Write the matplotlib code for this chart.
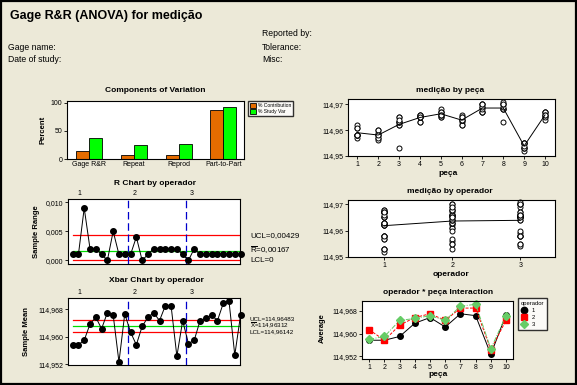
import numpy as np
import matplotlib
matplotlib.use('Agg')
import matplotlib.pyplot as plt
from matplotlib.patches import Rectangle
from matplotlib.lines import Line2D
from matplotlib.ticker import FuncFormatter
import matplotlib.transforms as mtransforms

plt.rcParams['font.family'] = ['Liberation Sans', 'DejaVu Sans']
plt.rcParams['mathtext.fontset'] = 'custom'
plt.rcParams['mathtext.rm'] = 'Liberation Sans'

# measurements: operator x part x trial
op1 = [[114.957, 114.958, 114.958], [114.958, 114.957, 114.958], [114.953, 114.962, 114.962],
       [114.963, 114.965, 114.963], [114.965, 114.967, 114.965], [114.962, 114.963, 114.962],
       [114.967, 114.967, 114.967], [114.963, 114.968, 114.968], [114.952, 114.953, 114.953],
       [114.967, 114.966, 114.967]]
op2 = [[114.961, 114.962, 114.961], [114.956, 114.960, 114.957], [114.963, 114.963, 114.963],
       [114.966, 114.965, 114.966], [114.966, 114.968, 114.967], [114.964, 114.966, 114.964],
       [114.969, 114.970, 114.968], [114.970, 114.968, 114.969], [114.955, 114.953, 114.955],
       [114.965, 114.964, 114.965]]
op3 = [[114.958, 114.958, 114.958], [114.959, 114.960, 114.958], [114.965, 114.965, 114.964],
       [114.965, 114.966, 114.965], [114.967, 114.966, 114.966], [114.965, 114.964, 114.965],
       [114.970, 114.969, 114.970], [114.970, 114.971, 114.970], [114.955, 114.954, 114.955],
       [114.967, 114.966, 114.966]]
operators = ['1', '2', '3']
parts = list(range(1, 11))

components = ['Gage R&R', 'Repeat', 'Reprod', 'Part-to-Part']
pct_contribution = [13.6, 6.6, 7.0, 86.4]
pct_study_var = [36.9, 25.7, 26.5, 93.0]

r_ucl, r_bar, r_lcl = 0.00429, 0.00167, 0.0
x_ucl, x_bar, x_lcl = 114.96483, 114.96312, 114.96142

data = np.array([op1, op2, op3])          # 3 x 10 x 3
ranges = np.ptp(data, axis=2).ravel()
means = data.mean(axis=2).ravel()
idx = np.arange(1, 31)

W, H = 577, 385
fig = plt.figure(figsize=(W / 100, H / 100), dpi=100)
bg = '#ECE9D8'
fig.patch.set_facecolor(bg)
fig.patches.append(Rectangle((0.001, 0.002), 0.997, 0.995, transform=fig.transFigure,
                             fill=False, edgecolor='black', lw=1.6))


def ax_px(x0, y0, x1, y1):
    a = fig.add_axes([x0 / W, 1 - y1 / H, (x1 - x0) / W, (y1 - y0) / H])
    a.set_facecolor('white')
    for s in a.spines.values():
        s.set_linewidth(0.8)
    a.tick_params(labelsize=5, length=2, width=0.6, pad=1.5)
    return a


def txt(x, y, s, **kw):
    fig.text(x / W, 1 - y / H, s, **kw)


def comma(fmt):
    return FuncFormatter(lambda v, p: (fmt % v).replace('.', ','))


# header
txt(10, 16, 'Gage R&R (ANOVA) for medição', fontsize=9, fontweight='bold', va='center')
txt(8, 47, 'Gage name:', fontsize=6.2, va='center')
txt(8, 60, 'Date of study:', fontsize=6.2, va='center')
txt(262, 34, 'Reported by:', fontsize=6.2, va='center')
txt(262, 47, 'Tolerance:', fontsize=6.2, va='center')
txt(262, 60, 'Misc:', fontsize=6.2, va='center')

tfs = 6
# components of variation
ax = ax_px(67, 101, 244, 159)
xc = np.arange(len(components))
bw = 0.29
ax.bar(xc - bw / 2, pct_contribution, bw, color='#E56C00', edgecolor='black', lw=0.6, label='% Contribution')
ax.bar(xc + bw / 2, pct_study_var, bw, color='#00FF00', edgecolor='black', lw=0.6, label='% Study Var')
ax.set_xlim(-0.5, 3.46)
ax.set_ylim(0, 103)
ax.set_yticks([0, 50, 100])
ax.set_xticks(xc)
ax.set_xticklabels(components)
ax.tick_params(axis='x', length=0)
ax.legend(loc='upper left', bbox_to_anchor=(248 / W, 1 - 101 / H), bbox_transform=fig.transFigure,
          fontsize=3.6, frameon=True, fancybox=False, edgecolor='black', handlelength=1.3,
          handleheight=1.2, borderpad=0.3, labelspacing=0.2, handletextpad=0.4, borderaxespad=0)
txt(155, 91, 'Components of Variation', fontsize=tfs, fontweight='bold', ha='center', va='center')
txt(43, 130, 'Percent', fontsize=5.5, fontweight='bold', rotation=90, ha='center', va='center')

# R chart
ax = ax_px(68, 199, 240, 264)
ax.plot(idx, ranges, color='black', lw=0.7, marker='o', ms=4, clip_on=False, zorder=3)
ax.plot([1, 30], [r_ucl, r_ucl], color='red', lw=0.9)
ax.plot([1, 30], [r_bar, r_bar], color='#00DD00', lw=0.9)
ax.plot([1, 30], [r_lcl, r_lcl], color='red', lw=0.9)
for xv in [10.5, 20.5]:
    ax.axvline(xv, color='#0000CC', lw=0.9, ls=(0, (6, 3)))
ax.set_xlim(0.2, 29.9)
ax.set_ylim(-0.00064, 0.01057)
ax.set_yticks([0, 0.005, 0.010])
ax.yaxis.set_major_formatter(comma('%.3f'))
ax.set_xticks([])
tr = mtransforms.blended_transform_factory(ax.transData, ax.transAxes)
for xv, s in zip([2.2, 11.7, 21.6], operators):
    ax.text(xv, 1.03, s, transform=tr, fontsize=5, ha='center', va='bottom')
txt(250, 236, 'UCL=0,00429', fontsize=5.8, va='center')
txt(250, 250.5, r'$\overline{\mathrm{R}}$=0,00167', fontsize=5.8, va='center')
txt(250, 260.5, 'LCL=0', fontsize=5.8, va='center')
txt(155, 184, 'R Chart by operador', fontsize=tfs, fontweight='bold', ha='center', va='center')
txt(37, 232, 'Sample Range', fontsize=5.5, fontweight='bold', rotation=90, ha='center', va='center')

# Xbar chart
ax = ax_px(68, 298, 240, 365)
ax.plot(idx, means, color='black', lw=0.7, marker='o', ms=4, clip_on=False, zorder=3)
ax.plot([1, 30], [x_ucl, x_ucl], color='red', lw=0.9)
ax.plot([1, 30], [x_bar, x_bar], color='#00DD00', lw=0.9)
ax.plot([1, 30], [x_lcl, x_lcl], color='red', lw=0.9)
for xv in [10.5, 20.5]:
    ax.axvline(xv, color='#0000CC', lw=0.9, ls=(0, (6, 3)))
ax.set_xlim(0.2, 29.9)
ax.set_ylim(114.9518, 114.97126)
ax.set_yticks([114.952, 114.960, 114.968])
ax.yaxis.set_major_formatter(comma('%.3f'))
ax.set_xticks([])
tr = mtransforms.blended_transform_factory(ax.transData, ax.transAxes)
for xv, s in zip([2.2, 11.7, 21.6], operators):
    ax.text(xv, 1.03, s, transform=tr, fontsize=5, ha='center', va='bottom')
txt(250, 319, 'UCL=114,96483', fontsize=4.5, va='center')
txt(250, 325.5, r'$\overline{\mathrm{X}}$=114,96312', fontsize=4.5, va='center')
txt(250, 332, 'LCL=114,96142', fontsize=4.5, va='center')
txt(156, 281, 'Xbar Chart by operador', fontsize=tfs, fontweight='bold', ha='center', va='center')
txt(27, 332, 'Sample Mean', fontsize=5.5, fontweight='bold', rotation=90, ha='center', va='center')

# medição by peça
ax = ax_px(348, 99, 555, 156)
for p in range(10):
    vals = data[:, p, :].ravel()
    ax.plot(np.full(vals.size, parts[p]), vals, ls='none', marker='o', ms=3.6, mfc='white',
            mec='black', mew=0.7, clip_on=False)
ax.plot(parts, data.mean(axis=(0, 2)), color='black', lw=0.7)
ax.set_xlim(0.55, 10.48)
ax.set_ylim(114.95, 114.97205)
ax.set_yticks([114.95, 114.96, 114.97])
ax.yaxis.set_major_formatter(comma('%.2f'))
ax.set_xticks(parts)
txt(450, 91, 'medição by peça', fontsize=tfs, fontweight='bold', ha='center', va='center')
txt(448, 173, 'peça', fontsize=6, fontweight='bold', ha='center', va='center')

# medição by operador
ax = ax_px(348, 200, 555, 257)
for o in range(3):
    vals = data[o].ravel()
    ax.plot(np.full(vals.size, o + 1), vals, ls='none', marker='o', ms=3.6, mfc='white',
            mec='black', mew=0.7, clip_on=False)
ax.plot([1, 2, 3], data.mean(axis=(1, 2)), color='black', lw=0.7)
ax.set_xlim(0.47, 3.51)
ax.set_ylim(114.95, 114.9716)
ax.set_yticks([114.95, 114.96, 114.97])
ax.yaxis.set_major_formatter(comma('%.2f'))
ax.set_xticks([1, 2, 3])
ax.set_xticklabels(operators)
txt(450, 192, 'medição by operador', fontsize=tfs, fontweight='bold', ha='center', va='center')
txt(451, 275, 'operador', fontsize=6, fontweight='bold', ha='center', va='center')

# interaction
ax = ax_px(362, 301, 513, 359)
styles = [('black', 'o', '-', 4), ('red', 's', (0, (3, 1.5)), 3.8), ('#66CC66', 'D', (0, (5, 1.5, 1, 1.5)), 3.8)]
handles = []
for o, (c, m, ls, ms) in enumerate(styles):
    ax.plot(parts, data[o].mean(axis=1), color=c, ls=ls, lw=0.7, marker=m, ms=ms, mec=c, clip_on=False)
    handles.append(Line2D([], [], ls='none', marker=m, color=c, ms=ms + 0.6))
ax.set_xlim(0.52, 10.46)
ax.set_ylim(114.95105, 114.9715)
ax.set_yticks([114.952, 114.960, 114.968])
ax.yaxis.set_major_formatter(comma('%.3f'))
ax.set_xticks(parts)
leg = ax.legend(handles, operators, title='operador', loc='upper left',
                bbox_to_anchor=(518 / W, 1 - 298 / H), bbox_transform=fig.transFigure,
                fontsize=4.2, title_fontsize=4.2, frameon=True, fancybox=False, edgecolor='black',
                handlelength=1.2, borderpad=0.5, labelspacing=0.35, handletextpad=0.6, borderaxespad=0)
leg._legend_box.align = 'left'
txt(438, 292, 'operador * peça Interaction', fontsize=tfs, fontweight='bold', ha='center', va='center')
txt(438, 375, 'peça', fontsize=6, fontweight='bold', ha='center', va='center')
txt(322, 328, 'Average', fontsize=5.5, fontweight='bold', rotation=90, ha='center', va='center')

fig.savefig('out.png', dpi=100, facecolor=bg)
